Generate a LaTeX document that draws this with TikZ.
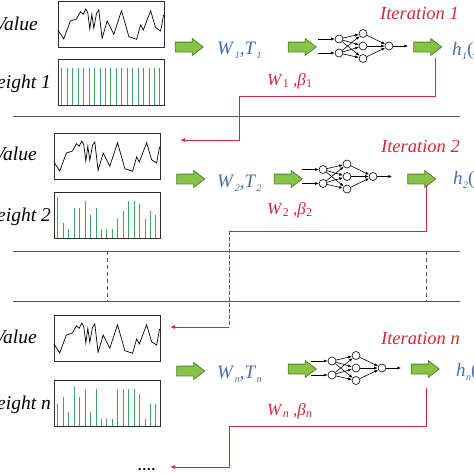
\documentclass[tikz,border=0pt]{standalone}
\usepackage{fontspec}
\setmainfont{Liberation Serif}
\usetikzlibrary{shapes.arrows,arrows.meta}
\definecolor{gfill}{RGB}{135,196,70}
\definecolor{gdraw}{RGB}{80,130,40}
\definecolor{barg}{RGB}{60,165,95}
\definecolor{lblue}{RGB}{70,110,175}
\definecolor{lred}{RGB}{215,40,55}
\definecolor{sepgray}{RGB}{85,85,85}
\definecolor{boxgray}{RGB}{45,45,45}

\newcommand\lab[2]{\textit{#1}\kern0.3pt\raisebox{-0.55ex}{\fontsize{10pt}{10pt}\selectfont\textit{#2}}}
\newcommand\rlab[2]{\textit{#1}\kern0.3pt\raisebox{-0.35ex}{\fontsize{12pt}{12pt}\selectfont #2}}

\newcommand\valuebox[3]{%
  \node[databox, anchor=north west] (#1) at (#2,#3) {};
  \draw[vline, shift={(#2,#3)}] (0,29) -- (5.7,38) -- (12.4,20) -- (18.4,18) -- (22.4,10.7) -- (25.1,13.3) -- (27.8,8) -- (29.8,11.7) -- (31.8,28) -- (33.8,13.3) -- (35.8,27.3) -- (38.5,12.3) -- (40.8,9) -- (44.1,37.3) -- (49.2,20) -- (55.8,33.3) -- (63.5,9.7) -- (70.9,35.7) -- (78.6,38.3) -- (82.6,24) -- (85.3,29) -- (92.6,9.7) -- (97.6,26.7) -- (102.6,30) -- (105.6,14);
}
\newcommand\weightbox[4]{%
  \node[databox, anchor=north west] (#1) at (#2,#3) {};
  \foreach \h [count=\i from 0] in {#4}
    \draw[wbar] ({#2+3.8+\i*5.45},{#3+45.6}) -- ++(0,-\h);
}
\newcommand\nnet[3]{%
  \node[nn] (#1i1) at ({#2},{#3-7}) {};
  \node[nn] (#1i2) at ({#2},{#3+7}) {};
  \node[nn] (#1h1) at ({#2+24},{#3-12.5}) {};
  \node[nn] (#1h2) at ({#2+24},{#3}) {};
  \node[nn] (#1h3) at ({#2+24},{#3+12.5}) {};
  \node[nn] (#1o) at ({#2+50},{#3}) {};
  \coordinate (#1s1) at ({#2-21},{#3-7});
  \coordinate (#1s2) at ({#2-21},{#3+7});
  \coordinate (#1e) at ({#2+69},{#3});
  \draw[nnarr] (#1s1) -- (#1i1);
  \draw[nnarr] (#1s2) -- (#1i2);
  \foreach \a in {i1,i2} \foreach \b in {h1,h2,h3} \draw[nnarr] (#1\a) -- (#1\b);
  \foreach \b in {h1,h2,h3} \draw[nnarr] (#1\b) -- (#1o);
  \draw[nnarr] (#1o) -- (#1e);
}

\begin{document}
\begin{tikzpicture}[x=1pt,y=-1pt,
  databox/.style={draw=boxgray, line width=0.9pt, minimum width=106pt, minimum height=46pt, inner sep=0pt},
  vline/.style={black, line width=0.7pt, line join=miter},
  wbar/.style={barg, line width=0.9pt},
  nn/.style={circle, draw=black, fill=white, line width=0.6pt, minimum size=8pt, inner sep=0pt},
  nnarr/.style={-{Latex[length=3.6pt,width=3pt]}, black, line width=0.6pt},
  garrow/.style={single arrow, draw=gdraw, fill=gfill, line width=0.8pt, minimum height=28pt, inner xsep=0pt, inner ysep=4.5pt, single arrow head extend=3.5pt, single arrow tip angle=75},
  sidetxt/.style={font=\fontsize{19.5pt}{19.5pt}\selectfont\itshape, inner sep=0pt},
  itertxt/.style={font=\fontsize{18.5pt}{18.5pt}\selectfont\itshape, text=lred, inner sep=0pt},
  bluetxt/.style={font=\fontsize{19pt}{19pt}\selectfont, text=lblue, inner sep=0pt},
  redtxt/.style={font=\fontsize{17pt}{17pt}\selectfont, text=lred, inner sep=0pt},
  fb/.style={lred, line width=0.9pt},
  fbarr/.style={lred, line width=0.9pt, -{Latex[length=5pt,width=4pt]}},
  fbdash/.style={lred, line width=0.9pt, dash pattern=on 3.5pt off 2.5pt},
  sep/.style={sepgray, line width=0.9pt},
  gdash/.style={sepgray, line width=1pt, dash pattern=on 4pt off 3pt}]
\useasboundingbox (0,0) rectangle (474,474);

% separators
\coordinate (s1a) at (13,116); \coordinate (s1b) at (460,116);
\coordinate (s2a) at (13,251); \coordinate (s2b) at (460,251);
\coordinate (s3a) at (13,301); \coordinate (s3b) at (460,301);
\draw[sep] (s1a) -- (s1b);
\draw[sep] (s2a) -- (s2b);
\draw[sep] (s3a) -- (s3b);
\coordinate (d1a) at (107,251); \coordinate (d1b) at (107,301);
\coordinate (d2a) at (426,251); \coordinate (d2b) at (426,301);
\draw[gdash] (d1a) -- (d1b);
\draw[gdash] (d2a) -- (d2b);

% ---------- Iteration 1 ----------
\node[sidetxt, anchor=base east] (v1t) at (38,30) {Value};
\node[sidetxt, anchor=base east] (w1t) at (51,88) {Weight 1};
\valuebox{v1}{58}{1}
\weightbox{w1}{58}{59}{37,37,37,37,37,37,37,37,37,37,37,37,37,37,37,37,37,37,37}
\node[garrow] (ga11) at (186,47) {};
\node[bluetxt, anchor=base west] (wt1) at (217,54) {\lab{W}{1}\textit{,}\lab{T}{1}};
\node[garrow] (ga12) at (299,47) {};
\nnet{a}{339}{46}
\node[garrow] (ga13) at (424.5,47) {};
\node[bluetxt, anchor=base west] (h1) at (452,55) {\lab{h}{1}(\textit{x})};
\node[itertxt, anchor=base east] (it1) at (459,19) {Iteration 1};
\node[redtxt, anchor=base west] (rb1) at (267,85) {\rlab{W}{1} ,\rlab{β}{1}};
\coordinate (r1a) at (435,58);
\coordinate (r1c) at (239,96);
\coordinate (r1e) at (180,140);
\draw[fbarr] (r1a) |- (r1c) |- (r1e);

% ---------- Iteration 2 ----------
\node[sidetxt, anchor=base east] (v2t) at (37,160) {Value};
\node[sidetxt, anchor=base east] (w2t) at (51,221) {Weight 2};
\valuebox{v2}{54}{133}
\weightbox{w2}{54}{192}{41,15,9,30,30,37,23,30,9,9,9,19,27,37,37,34,19,27,23}
\node[garrow] (ga21) at (187.5,179) {};
\node[bluetxt, anchor=base west] (wt2) at (217,187) {\lab{W}{2}\textit{,}\lab{T}{2}};
\node[garrow] (ga22) at (285,179) {};
\nnet{b}{323}{176.5}
\node[garrow] (ga23) at (418.5,179) {};
\node[bluetxt, anchor=base west] (h2) at (453,184) {\lab{h}{2}(\textit{x})};
\node[itertxt, anchor=base east] (it2) at (460,152) {Iteration 2};
\node[redtxt, anchor=base west] (rb2) at (267,214) {\rlab{W}{2} ,\rlab{β}{2}};
\coordinate (r2a) at (426,185);
\coordinate (r2c) at (229,231);
\coordinate (r2d) at (229,327);
\coordinate (r2e) at (170,327);
\draw[fb] (r2a) |- (r2c);
\draw[fbdash] (r2c) -- (r2d);
\draw[fbarr] (r2d) -- (r2e);

% ---------- Iteration n ----------
\node[sidetxt, anchor=base east] (vnt) at (37,343) {Value};
\node[sidetxt, anchor=base east] (wnt) at (51,409) {Weight \textit{n}};
\valuebox{vn}{54}{315}
\weightbox{wn}{54}{380}{22,29,14,39,29,37,14,37,7,7,7,37,37,37,37,32,7,22,22}
\node[garrow] (gan1) at (187.5,371) {};
\node[bluetxt, anchor=base west] (wtn) at (217,378) {\lab{W}{n}\textit{,}\lab{T}{n}};
\node[garrow] (gan2) at (299,369) {};
\nnet{c}{332}{368}
\node[garrow] (gan3) at (422,369) {};
\node[bluetxt, anchor=base west] (hn) at (456,376) {\lab{h}{n}(\textit{x})};
\node[itertxt, anchor=base east] (itn) at (460,344) {Iteration n};
\node[redtxt, anchor=base west] (rbn) at (267,415) {\rlab{W}{\textit{n}} ,\rlab{β}{\textit{n}}};
\coordinate (rna) at (426,388);
\coordinate (rnc) at (229,426);
\coordinate (rne) at (170,467);
\draw[fbarr] (rna) |- (rnc) |- (rne);
\node[font=\fontsize{14pt}{14pt}\selectfont\bfseries, inner sep=0pt, anchor=base west] (dots) at (138,470) {.\kern1pt.\kern1pt.\kern1pt.};
\end{tikzpicture}
\end{document}
